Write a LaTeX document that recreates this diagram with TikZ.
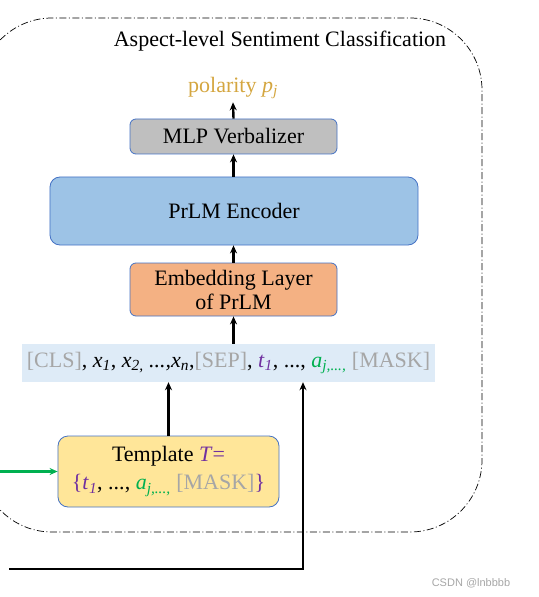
\documentclass[tikz,border=0pt]{standalone}
\usepackage{fontspec}
\setmainfont{Liberation Serif}
\setsansfont{Liberation Sans}
\usetikzlibrary{arrows.meta}
\definecolor{bdblue}{RGB}{68,114,196}
\definecolor{mlpgray}{RGB}{191,191,191}
\definecolor{encblue}{RGB}{157,195,230}
\definecolor{embor}{RGB}{244,177,131}
\definecolor{tokbg}{RGB}{222,235,247}
\definecolor{tmplyel}{RGB}{255,230,153}
\definecolor{tgray}{RGB}{166,166,166}
\definecolor{tpurple}{RGB}{112,48,160}
\definecolor{tgreen}{RGB}{0,176,80}
\definecolor{tgold}{RGB}{212,166,64}
\newcommand\ts[1]{\textsubscript{\itshape #1}}
\tikzset{
  blk/.style={draw=bdblue, line width=0.8bp, rounded corners=6bp, inner sep=0pt, align=center},
  arr/.style={line width=2.4bp, -{Stealth[length=8bp,width=7bp]}},
}
\begin{document}
\begin{tikzpicture}[x=1bp,y=-1bp,font=\fontsize{22bp}{25bp}\selectfont]
	\clip (0,0) rectangle (539,597);
	% outer frame
	\draw[line width=0.7bp, dash pattern=on 7bp off 2.5bp on 1bp off 2.5bp, rounded corners=72bp] (-20,18) rectangle (482,532);
	\node (title) at (280,41) {Aspect-level Sentiment Classification};
	\node[text=tgold] (pol) at (233,88) {polarity \textit{p}\ts{j}};
	% model blocks
	\node[blk, fill=mlpgray, minimum width=207bp, minimum height=35bp] (mlp) at (233.5,136.5) {MLP Verbalizer};
	\node[blk, fill=encblue, rounded corners=10bp, minimum width=368bp, minimum height=68bp] (enc) at (234,211) {PrLM Encoder};
	\node[blk, fill=embor, minimum width=207bp, minimum height=53bp, font=\fontsize{22bp}{24bp}\selectfont] (emb) at (233.5,289.5) {Embedding Layer\\of PrLM};
	\node[fill=tokbg, inner sep=0pt, minimum width=413bp, minimum height=38bp] (tok) at (228.5,363)
		{{\color{tgray}[CLS]}, \textit{x}\ts{1}, \textit{x}\ts{2,} \textit{...,x}\ts{n},{\color{tgray}[SEP]}, {\color{tpurple}\textit{t}\ts{1}}, ..., {\color{tgreen}\textit{a}\ts{j,...,}} {\color{tgray}[MASK]}};
	\node[blk, fill=tmplyel, rounded corners=10bp, minimum width=221bp, minimum height=71bp, font=\fontsize{22bp}{28bp}\selectfont] (tmpl) at (168.5,471.5)
		{Template {\color{tpurple}\textit{T}=}\\{\color{tpurple}\{\textit{t}\ts{1}}, ..., {\color{tgreen}\textit{a}\ts{j,...,}} {\color{tgray}[MASK]}{\color{tpurple}\}}};
	% arrows
	\draw[arr] (mlp.north) -- (pol.south);
	\draw[arr] (enc.north -| mlp) -- (mlp.south);
	\draw[arr] (emb.north) -- (emb.north |- enc.south);
	\draw[arr] (emb.south |- tok.north) -- (emb.south);
	\draw[arr] (tmpl.north) -- (tmpl.north |- tok.south);
	\coordinate (sent) at (9,569);
	\coordinate (turn) at (303,569);
	\draw[arr] (sent) -- (turn) -- (turn |- tok.south);
	\coordinate (gin) at (0,471.5);
	\draw[arr, draw=tgreen, fill=tgreen] (gin) -- (tmpl.west);
	\node[text=tgray, font=\sffamily\fontsize{11bp}{13bp}\selectfont] (mark) at (471,583) {CSDN @lnbbbb};
\end{tikzpicture}
\end{document}
